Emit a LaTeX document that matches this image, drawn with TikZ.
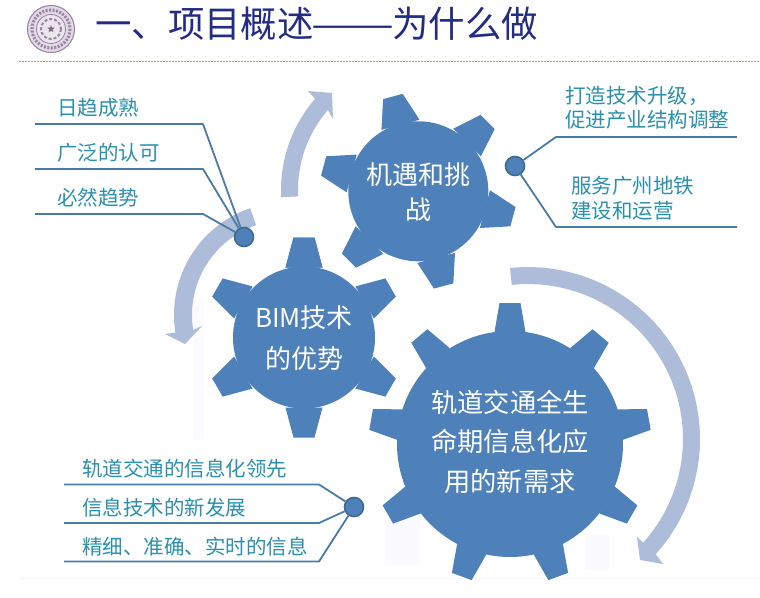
\documentclass[tikz,border=0pt]{standalone}
\usepackage{fontspec}
\usepackage{graphicx}
\setmainfont{Noto Sans CJK SC}
\usetikzlibrary{shapes.geometric}
\definecolor{gearblue}{HTML}{4E80BA}
\definecolor{bandblue}{HTML}{ADBDD9}
\definecolor{labelteal}{HTML}{2A90AC}
\definecolor{ruleblue}{HTML}{4A7BA6}
\definecolor{titlenavy}{HTML}{232C85}
\definecolor{sealmauve}{HTML}{9A82A4}
\newcommand\gearpic[9]{% cx cy tipR bodyR start step last tipHalf baseHalf
  \fill[gearblue] (#1,#2) circle[radius=#4];
  \foreach \a in {#5,#6,...,#7}{
    \fill[gearblue]
      ({#1+#3*cos(\a)-#8*sin(\a)},{#2+#3*sin(\a)+#8*cos(\a)}) --
      ({#1+#3*cos(\a)+#8*sin(\a)},{#2+#3*sin(\a)-#8*cos(\a)}) --
      ({#1+(#4-1)*cos(\a)+#9*sin(\a)},{#2+(#4-1)*sin(\a)-#9*cos(\a)}) --
      ({#1+(#4-1)*cos(\a)-#9*sin(\a)},{#2+(#4-1)*sin(\a)+#9*cos(\a)}) -- cycle;
  }
}
\newcommand\bandarrow[9]{% cx cy rin rout a1 a2 barb1 tip barb2
  \fill[bandblue]
    plot[domain=#5:#6,samples=40] ({#1+#4*cos(\x)},{#2+#4*sin(\x)}) --
    #7 -- #8 -- #9 --
    plot[domain=#6:#5,samples=40] ({#1+#3*cos(\x)},{#2+#3*sin(\x)}) -- cycle;
}
\tikzset{
  labeltext/.style={text=labelteal,inner sep=0pt,anchor=west,align=left,font=\fontsize{20.5}{24.5}\selectfont},
  geartext/.style={text=white,inner sep=0pt,align=center},
  hubdot/.style={circle,fill=gearblue,draw=ruleblue!85!black,line width=1.6pt,minimum size=19pt,inner sep=0pt},
  leader/.style={draw=ruleblue,line width=1.8pt,line join=round}
}
\begin{document}
\begin{tikzpicture}[x=1pt,y=-1pt]
\useasboundingbox (0,0) rectangle (760,597);
\fill[white] (0,0) rectangle (760,597);
% faint background
\draw[line width=1pt,draw=magenta!5] (20,578) -- (760,578);
\fill[blue!2] (193,300) rectangle (204,440);
\fill[blue!2] (385,520) rectangle (420,565);
\fill[blue!2] (585,535) rectangle (610,570);
% seal
\fill[sealmauve!30] (51,29) circle[radius=24];
\draw[sealmauve,line width=1pt] (51,29) circle[radius=23.5];
\draw[sealmauve,line width=3pt,dash pattern=on 2pt off 1.5pt] (51,29) circle[radius=19];
\draw[sealmauve,line width=.8pt,fill=sealmauve!20] (51,29) circle[radius=14.5];
\draw[sealmauve,line width=2pt,dash pattern=on 3pt off 2pt] (51,29) circle[radius=10];
\node[star,star points=5,star point ratio=2.4,fill=sealmauve!80!black,inner sep=0pt,minimum size=8pt] (sealstar) at (51,29) {};
% title
\node[text=titlenavy,inner sep=0pt,anchor=west,font=\fontsize{36.4}{40}\selectfont] (title) at (95,24) {一、项目概述\hspace{-2pt}\scalebox{1.36}[1]{——}\hspace{-2pt}为什么做};
\draw[sealmauve!80,line width=1pt,dash pattern=on 1.5pt off 1.5pt] (19,61) -- (759,61);
% bands
\bandarrow{420}{190}{122}{139}{177}{221}{(308,91)}{(332,93)}{(333,119)}
\bandarrow{287}{315}{95}{113}{251}{171}{(165,334)}{(185,344)}{(202,326)}
\bandarrow{528}{439}{155}{172}{-96}{42}{(663,564)}{(640,560)}{(637,537)}
% gears
\gearpic{418.3}{191.3}{98}{70}{-105}{-45}{255}{10}{19.5}
\gearpic{304}{337.5}{100}{71}{-90}{-30}{270}{10.5}{18.5}
\gearpic{510}{444}{141}{113}{-90}{-50}{230}{10.5}{15.5}
\node[geartext,font=\fontsize{26}{35}\selectfont] (g1) at (418,192.5) {机遇和挑\\战};
\node[geartext,font=\fontsize{26}{41}\selectfont] (g2) at (304,338) {BIM技术\\的优势};
\node[geartext,font=\fontsize{26.3}{39.5}\selectfont] (g3) at (510,441.5) {轨道交通全生\\命期信息化应\\用的新需求};
% left-top labels
\node[hubdot] (hubA) at (244,237) {};
\coordinate (a1s) at (35,124); \coordinate (a1b) at (203,124);
\coordinate (a2s) at (35,169); \coordinate (a2b) at (203,169);
\coordinate (a3s) at (35,214); \coordinate (a3b) at (203,214);
\draw[leader] (a1s) -- (a1b) -- (hubA);
\draw[leader] (a2s) -- (a2b) -- (hubA);
\draw[leader] (a3s) -- (a3b) -- (hubA);
\node[labeltext] (la1) at (57,108) {日趋成熟};
\node[labeltext] (la2) at (57,153) {广泛的认可};
\node[labeltext] (la3) at (57,198) {必然趋势};
% right labels
\node[hubdot] (hubB) at (515,166) {};
\coordinate (b1s) at (737,137); \coordinate (b1b) at (556,137);
\coordinate (b2s) at (737,227); \coordinate (b2b) at (556,227);
\draw[leader] (b1s) -- (b1b) -- (hubB);
\draw[leader] (b2s) -- (b2b) -- (hubB);
\node[labeltext] (lb1) at (565,108) {打造技术升级，\\促进产业结构调整};
\node[labeltext] (lb2) at (571,198) {服务广州地铁\\建设和运营};
% bottom labels
\node[hubdot] (hubC) at (354,507) {};
\coordinate (c1s) at (64,484.5); \coordinate (c1b) at (319,484.5);
\coordinate (c2s) at (64,523); \coordinate (c2b) at (319,523);
\coordinate (c3s) at (64,561.5); \coordinate (c3b) at (319,561.5);
\draw[leader] (c1s) -- (c1b) -- (hubC);
\draw[leader] (c2s) -- (c2b) -- (hubC);
\draw[leader] (c3s) -- (c3b) -- (hubC);
\node[labeltext] (lc1) at (82,469) {轨道交通的信息化领先};
\node[labeltext] (lc2) at (82,508) {信息技术的新发展};
\node[labeltext] (lc3) at (82,547) {精细、准确、实时的信息};
\end{tikzpicture}
\end{document}
